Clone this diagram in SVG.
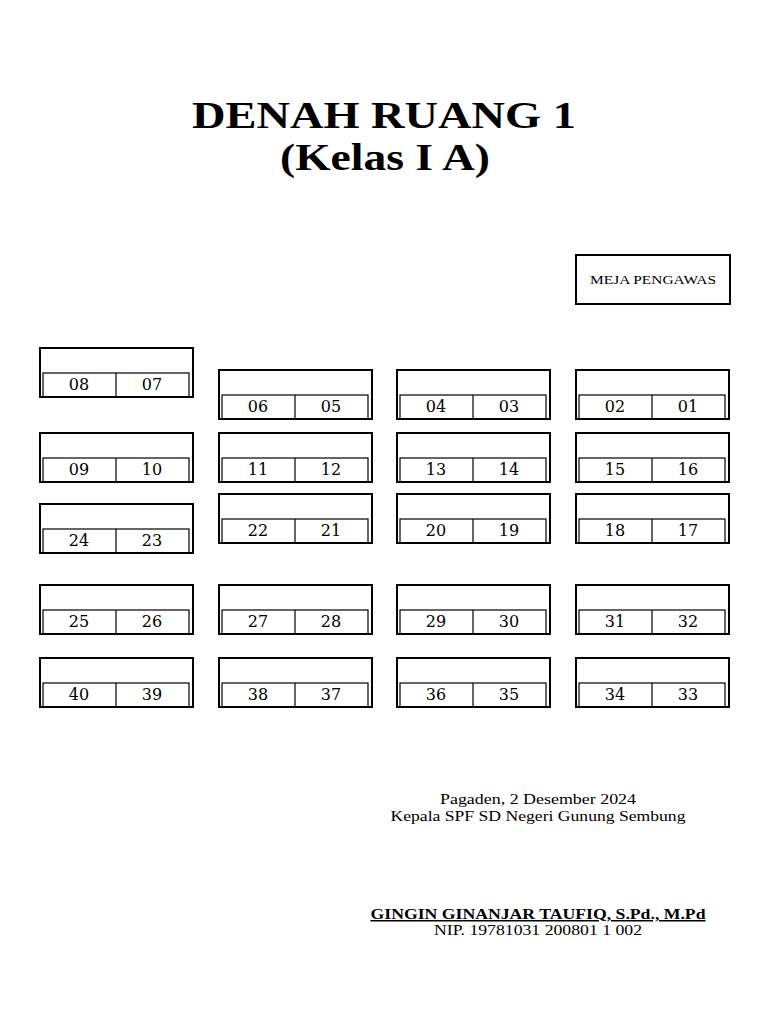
<svg xmlns="http://www.w3.org/2000/svg" width="768" height="1024" viewBox="0 0 768 1024">
<style>
.o{fill:none;stroke:#000;stroke-width:2}
.i{fill:none;stroke:#000;stroke-width:1.2}
.n{font-family:"DejaVu Serif","Liberation Serif",serif;font-size:16px;text-anchor:middle}
.t{font-family:"Liberation Serif",serif;font-weight:bold;font-size:38px;text-anchor:middle}
.f{font-family:"Liberation Serif",serif;font-size:15px;text-anchor:middle}
</style>
<rect width="768" height="1024" fill="#fff"/>
<text class="t" x="384" y="128" textLength="384" lengthAdjust="spacingAndGlyphs">DENAH RUANG  1</text>
<text class="t" x="385" y="170" textLength="210" lengthAdjust="spacingAndGlyphs">(Kelas I A)</text>
<g id="meja-pengawas"><rect class="o" x="576" y="255" width="154" height="49"/><text x="653" y="284" font-family="Liberation Serif,serif" font-size="12.5" text-anchor="middle" textLength="126" lengthAdjust="spacingAndGlyphs">MEJA PENGAWAS</text></g>
<defs>
<g id="d"><rect class="o" x="0" y="0" width="153" height="49"/><rect class="i" x="3" y="25" width="146" height="24" fill="#fff"/><line class="i" x1="76" y1="25" x2="76" y2="49"/></g>
</defs>
<g id="desks">
<g id="d0807"><use href="#d" x="40" y="348"/><text class="n" x="79" y="390">08</text><text class="n" x="152" y="390">07</text></g>
<g id="d0605"><use href="#d" x="219" y="370"/><text class="n" x="258" y="412">06</text><text class="n" x="331" y="412">05</text></g>
<g id="d0403"><use href="#d" x="397" y="370"/><text class="n" x="436" y="412">04</text><text class="n" x="509" y="412">03</text></g>
<g id="d0201"><use href="#d" x="576" y="370"/><text class="n" x="615" y="412">02</text><text class="n" x="688" y="412">01</text></g>
<g id="d0910"><use href="#d" x="40" y="433"/><text class="n" x="79" y="475">09</text><text class="n" x="152" y="475">10</text></g>
<g id="d1112"><use href="#d" x="219" y="433"/><text class="n" x="258" y="475">11</text><text class="n" x="331" y="475">12</text></g>
<g id="d1314"><use href="#d" x="397" y="433"/><text class="n" x="436" y="475">13</text><text class="n" x="509" y="475">14</text></g>
<g id="d1516"><use href="#d" x="576" y="433"/><text class="n" x="615" y="475">15</text><text class="n" x="688" y="475">16</text></g>
<g id="d2423"><use href="#d" x="40" y="504"/><text class="n" x="79" y="546">24</text><text class="n" x="152" y="546">23</text></g>
<g id="d2221"><use href="#d" x="219" y="494"/><text class="n" x="258" y="536">22</text><text class="n" x="331" y="536">21</text></g>
<g id="d2019"><use href="#d" x="397" y="494"/><text class="n" x="436" y="536">20</text><text class="n" x="509" y="536">19</text></g>
<g id="d1817"><use href="#d" x="576" y="494"/><text class="n" x="615" y="536">18</text><text class="n" x="688" y="536">17</text></g>
<g id="d2526"><use href="#d" x="40" y="585"/><text class="n" x="79" y="627">25</text><text class="n" x="152" y="627">26</text></g>
<g id="d2728"><use href="#d" x="219" y="585"/><text class="n" x="258" y="627">27</text><text class="n" x="331" y="627">28</text></g>
<g id="d2930"><use href="#d" x="397" y="585"/><text class="n" x="436" y="627">29</text><text class="n" x="509" y="627">30</text></g>
<g id="d3132"><use href="#d" x="576" y="585"/><text class="n" x="615" y="627">31</text><text class="n" x="688" y="627">32</text></g>
<g id="d4039"><use href="#d" x="40" y="658"/><text class="n" x="79" y="700">40</text><text class="n" x="152" y="700">39</text></g>
<g id="d3837"><use href="#d" x="219" y="658"/><text class="n" x="258" y="700">38</text><text class="n" x="331" y="700">37</text></g>
<g id="d3635"><use href="#d" x="397" y="658"/><text class="n" x="436" y="700">36</text><text class="n" x="509" y="700">35</text></g>
<g id="d3433"><use href="#d" x="576" y="658"/><text class="n" x="615" y="700">34</text><text class="n" x="688" y="700">33</text></g>
</g>
<text class="f" x="538" y="804" textLength="196" lengthAdjust="spacingAndGlyphs">Pagaden,  2 Desember 2024</text>
<text class="f" x="538" y="821" textLength="295" lengthAdjust="spacingAndGlyphs">Kepala SPF SD Negeri Gunung Sembung</text>
<text class="f" x="538" y="919" font-weight="bold" text-decoration="underline" textLength="335" lengthAdjust="spacingAndGlyphs">GINGIN GINANJAR TAUFIQ, S.Pd., M.Pd</text>
<text class="f" x="538" y="935" textLength="208" lengthAdjust="spacingAndGlyphs">NIP. 19781031 200801 1 002</text>
</svg>
